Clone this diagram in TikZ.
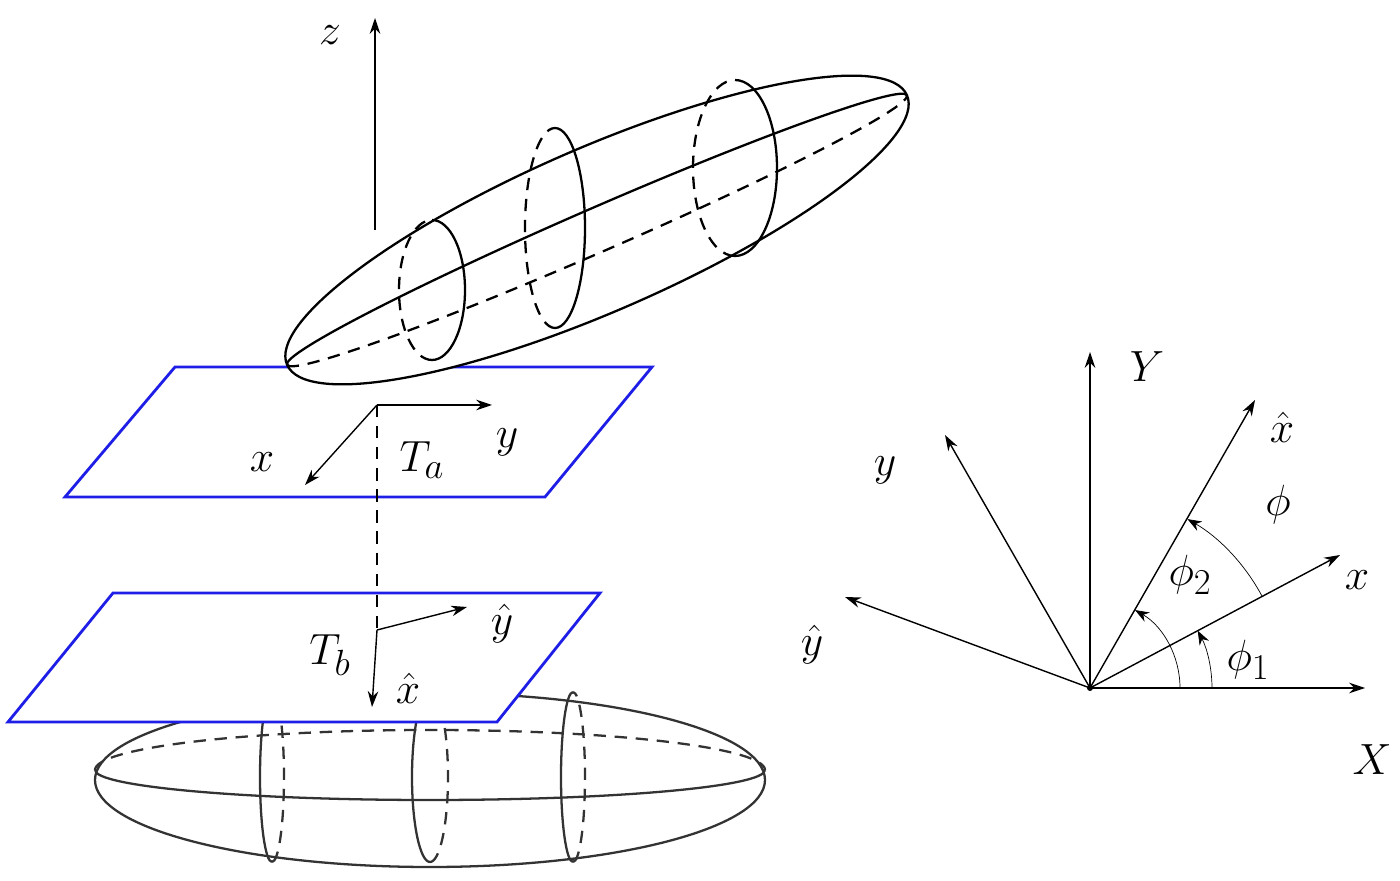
\documentclass[tikz,border=0pt]{standalone}
\usepackage{tikz}
\usetikzlibrary{arrows.meta, positioning, calc}
\definecolor{PlaneBlue}{RGB}{30, 30, 230}
\tikzset{
  axis/.style={thick, -{Stealth[length=9pt, width=6pt]}},
  plane/.style={PlaneBlue, line width=1.6pt, fill=white},
  body/.style={line width=1.3pt},
  hidden/.style={line width=1.3pt, dashed, dash pattern=on 7pt off 5pt},
  lbl/.style={font=\Huge}
}
\begin{document}
\begin{tikzpicture}[x=0.02cm, y=-0.02cm]
        \useasboundingbox (0,0) rectangle (1400,881);

        % z axis
        \coordinate (zb) at (375,230);
        \coordinate (zt) at (375,18);
        \draw[axis] (zb) -- (zt);
        \node[lbl] (zl) at (330,35) {$z$};

        % Upper plane
        \draw[plane] (175,367) -- (652,367) -- (545,497) -- (65,497) -- cycle;

        % Upper ellipsoid
        \begin{scope}[shift={(597,230)}, rotate=23.5]
          \fill[white] (0,0) ellipse (338 and 82);
          \draw[body] (0,0) ellipse (338 and 82);
          \draw[body] (-338,0) arc (180:360:338 and 22);
          \draw[hidden] (-338,0) arc (180:0:338 and 22);
        \end{scope}
        % rings of the upper ellipsoid
        \foreach \cx/\cy/\rx/\ry in {432/290/33/70, 555/228/30/100, 735/168/42/88}{
          \draw[body] (\cx,\cy+\ry) arc [start angle=90, end angle=-90, x radius=\rx, y radius=\ry];
          \draw[hidden] (\cx,\cy+\ry) arc [start angle=90, end angle=270, x radius=\rx, y radius=\ry];
        }

        % Frame at T_a
        \coordinate (Ta) at (377,405);
        \coordinate (Tay) at (492,405);
        \coordinate (Tax) at (305,485);
        \draw[axis] (Ta) -- (Tay);
        \draw[axis] (Ta) -- (Tax);
        \node[lbl] (xa) at (262,462) {$x$};
        \node[lbl] (Tal) at (422,460) {$T_a$};
        \node[lbl] (ya) at (507,442) {$y$};

        % Lower ellipsoid
        \draw[body, black!80] (430,780) ellipse (335 and 87);
        \draw[hidden, black!80] (95,770) arc (180:360:335 and 40);
        \draw[body, black!80] (95,770) arc (180:0:335 and 30);
        \foreach \cx/\rx in {272/12, 430/18, 573/12}{
          \draw[body, black!80] (\cx,862) arc [start angle=90, end angle=270, x radius=\rx, y radius=85];
          \draw[hidden, black!80] (\cx,862) arc [start angle=90, end angle=-90, x radius=\rx, y radius=85];
        }

        % Lower plane
        \draw[plane] (113,593) -- (600,593) -- (497,722) -- (8,722) -- cycle;

        % Frame at T_b
        \coordinate (Tb) at (377,630);
        \coordinate (Tbx) at (372,707);
        \coordinate (Tby) at (467,607);
        \draw[hidden, thick] (Ta) -- (Tb);
        \draw[axis] (Tb) -- (Tby);
        \draw[axis] (Tb) -- (Tbx);
        \node[lbl] (Tbl) at (330,655) {$T_b$};
        \node[lbl] (xb) at (408,688) {$\hat{x}$};
        \node[lbl] (yb) at (502,624) {$\hat{y}$};

        % Planar frames
        \coordinate (O) at (1090,688);
        \coordinate (XE) at (1365,688);
        \coordinate (YE) at (1090,352);
        \coordinate (xhE) at (1255,400);
        \coordinate (yE) at (945,435);
        \coordinate (xE) at (1340,555);
        \coordinate (yhE) at (845,597);
        \foreach \e in {XE, YE, xhE, yE, xE, yhE}{
          \draw[axis] (O) -- (\e);
        }
        \fill (O) circle (3);
        \node[lbl] (Xl) at (1372,760) {$X$};
        \node[lbl] (Yl) at (1147,367) {$Y$};
        \node[lbl] (xhl) at (1282,427) {$\hat{x}$};
        \node[lbl] (yl) at (885,470) {$y$};
        \node[lbl] (xl) at (1357,580) {$x$};
        \node[lbl] (yhl) at (812,645) {$\hat{y}$};

        % Angles
        \draw[thin, -{Stealth[length=8pt, width=6pt]}] ($(O)+(-28:195)$) arc (-28:-60:195);
        \draw[thin, -{Stealth[length=8pt, width=6pt]}] ($(O)+(0:90)$) arc (0:-60:90);
        \draw[thin, -{Stealth[length=8pt, width=6pt]}] ($(O)+(0:122)$) arc (0:-28:122);
        \node[lbl] (phl) at (1278,505) {$\phi$};
        \node[lbl] (ph2l) at (1190,575) {$\phi_2$};
        \node[lbl] (ph1l) at (1248,660) {$\phi_1$};
    \end{tikzpicture}
\end{document}
